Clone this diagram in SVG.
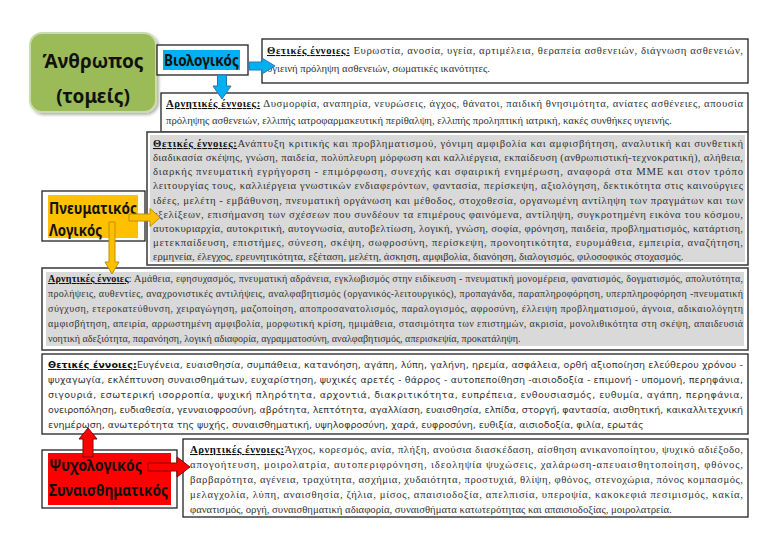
<svg xmlns="http://www.w3.org/2000/svg" width="768" height="543" viewBox="0 0 768 543">
<defs>
<style>
.bx{fill:#fff;stroke:#222;stroke-width:1.3}
.gb{fill:#fff;stroke:#444;stroke-width:1.6}
.gf{fill:#d9d9d9}
.t{font-family:"Liberation Serif","Times New Roman",serif;font-size:10.7px;fill:#333}
.t2{font-family:"Liberation Serif","Times New Roman",serif;font-size:10.1px;fill:#333}
.s{font-family:"DejaVu Sans","Noto Sans",sans-serif;font-size:9.5px;fill:#333}
.lb{font-weight:bold;text-decoration:underline;fill:#111}
.h{font-family:"Noto Sans","Open Sans",sans-serif;font-weight:bold;fill:#111}
</style>
<filter id="sh" x="-10%" y="-10%" width="130%" height="130%">
<feGaussianBlur in="SourceAlpha" stdDeviation="1.5"/>
<feOffset dx="1.5" dy="2" result="o"/>
<feFlood flood-color="#000" flood-opacity="0.3"/>
<feComposite in2="o" operator="in"/>
<feMerge><feMergeNode/><feMergeNode in="SourceGraphic"/></feMerge>
</filter>
</defs>
<rect width="768" height="543" fill="#fff"/>

<g id="anthropos">
<rect x="30" y="33" width="126" height="79" rx="12" fill="#9bbb59" stroke="#c9dcae" stroke-width="2" filter="url(#sh)"/>
<text class="h" x="93" y="68" font-size="19" text-anchor="middle">Άνθρωπος</text>
<text class="h" x="93" y="103" font-size="19" text-anchor="middle">(τομείς)</text>
</g>

<g id="viologikos">
<rect class="bx" x="157" y="45" width="91" height="30"/>
<rect x="163" y="50" width="77" height="20" fill="#00b0f0"/>
<text class="h" x="164" y="66" font-size="15.5" textLength="75" lengthAdjust="spacingAndGlyphs">Βιολογικός</text>
</g>

<g id="viol-thetikes">
<rect class="bx" x="262" y="39" width="486" height="44"/>
<text class="t" x="267" y="54" textLength="476" lengthAdjust="spacing"><tspan class="lb">Θετικές έννοιες:</tspan> Ευρωστία, ανοσία, υγεία, αρτιμέλεια, θεραπεία ασθενειών, διάγνωση ασθενειών,</text>
<text class="t" x="267" y="72">υγιεινή πρόληψη ασθενειών, σωματικές ικανότητες.</text>
</g>

<g id="viol-arnitikes">
<rect class="bx" x="161" y="93" width="587" height="39"/>
<text class="t" x="166" y="107" textLength="577" lengthAdjust="spacing"><tspan class="lb">Αρνητικές έννοιες:</tspan> Δυσμορφία, αναπηρία, νευρώσεις, άγχος, θάνατοι, παιδική θνησιμότητα, ανίατες ασθένειες, απουσία</text>
<text class="t" x="166" y="124">πρόληψης ασθενειών, ελλιπής ιατροφαρμακευτική περίθαλψη, ελλιπής προληπτική ιατρική, κακές συνθήκες υγιεινής.</text>
</g>

<g id="pnev-thetikes">
<rect class="gb" x="147" y="132" width="601" height="133"/>
<rect class="gf" x="150" y="135" width="595" height="127"/>
<text class="t" x="153" y="147" textLength="590" lengthAdjust="spacing"><tspan class="lb">Θετικές έννοιες:</tspan>Ανάπτυξη κριτικής και προβληματισμού, γόνιμη αμφιβολία και αμφισβήτηση, αναλυτική και συνθετική</text>
<text class="t" x="153" y="161" textLength="590" lengthAdjust="spacing">διαδικασία σκέψης, γνώση, παιδεία, πολύπλευρη μόρφωση και καλλιέργεια, εκπαίδευση (ανθρωπιστική-τεχνοκρατική), αλήθεια,</text>
<text class="t" x="153" y="175" textLength="590" lengthAdjust="spacing">διαρκής πνευματική εγρήγορση - επιμόρφωση, συνεχής και σφαιρική ενημέρωση, αναφορά στα ΜΜΕ και στον τρόπο</text>
<text class="t" x="153" y="189" textLength="590" lengthAdjust="spacing">λειτουργίας τους, καλλιέργεια γνωστικών ενδιαφερόντων, φαντασία, περίσκεψη, αξιολόγηση, δεκτικότητα στις καινούργιες</text>
<text class="t" x="153" y="204" textLength="590" lengthAdjust="spacing">ιδέες, μελέτη - εμβάθυνση, πνευματική οργάνωση και μέθοδος, στοχοθεσία, οργανωμένη αντίληψη των πραγμάτων και των</text>
<text class="t" x="153" y="218" textLength="590" lengthAdjust="spacing">εξελίξεων, επισήμανση των σχέσεων που συνδέουν τα επιμέρους φαινόμενα, αντίληψη, συγκροτημένη εικόνα του κόσμου,</text>
<text class="t" x="153" y="232" textLength="590" lengthAdjust="spacing">αυτοκυριαρχία, αυτοκριτική, αυτογνωσία, αυτοβελτίωση, λογική, γνώση, σοφία, φρόνηση, παιδεία, προβληματισμός, κατάρτιση,</text>
<text class="t" x="153" y="246" textLength="590" lengthAdjust="spacing">μετεκπαίδευση, επιστήμες,  σύνεση, σκέψη, σωφροσύνη, περίσκεψη, προνοητικότητα, ευρυμάθεια, εμπειρία, αναζήτηση,</text>
<text class="t" x="153" y="260">ερμηνεία, έλεγχος, ερευνητικότητα, εξέταση, μελέτη, άσκηση, αμφιβολία, διανόηση, διαλογισμός, φιλοσοφικός στοχασμός.</text>
</g>

<g id="pnevmatikos">
<rect class="bx" x="42" y="191" width="103" height="50"/>
<rect x="48" y="195" width="90" height="43" fill="#ffc000"/>
<text class="h" x="49" y="214" font-size="15.5" textLength="88" lengthAdjust="spacingAndGlyphs">Πνευματικός</text>
<text class="h" x="49" y="236" font-size="15.5" textLength="53" lengthAdjust="spacingAndGlyphs">Λογικός</text>
</g>

<g id="pnev-arnitikes">
<rect class="gb" x="42" y="268" width="706" height="82"/>
<rect class="gf" x="46" y="272" width="698" height="74"/>
<text class="t2" x="48" y="282" textLength="695" lengthAdjust="spacing"><tspan class="lb">Αρνητικές έννοιες</tspan>: Αμάθεια, εφησυχασμός, πνευματική αδράνεια, εγκλωβισμός στην ειδίκευση - πνευματική μονομέρεια, φανατισμός, δογματισμός, απολυτότητα,</text>
<text class="t2" x="48" y="297" textLength="695" lengthAdjust="spacing">προλήψεις, αυθεντίες, αναχρονιστικές αντιλήψεις, αναλφαβητισμός (οργανικός-λειτουργικός), προπαγάνδα, παραπληροφόρηση, υπερπληροφόρηση -πνευματική</text>
<text class="t2" x="48" y="312" textLength="695" lengthAdjust="spacing">σύγχυση, ετεροκατεύθυνση, χειραγώγηση, μαζοποίηση, αποπροσανατολισμός, παραλογισμός, αφροσύνη, έλλειψη προβληματισμού, άγνοια, αδικαιολόγητη</text>
<text class="t2" x="48" y="327" textLength="695" lengthAdjust="spacing">αμφισβήτηση, απειρία, αρρωστημένη αμφιβολία,  μορφωτική κρίση, ημιμάθεια, στασιμότητα των επιστημών, ακρισία, μονολιθικότητα στη σκέψη, απαιδευσιά</text>
<text class="t2" x="48" y="342">νοητική αδεξιότητα, παρανόηση, λογική αδιαφορία, αγραμματοσύνη, αναλφαβητισμός, απερισκεψία, προκατάληψη.</text>
</g>

<g id="psych-thetikes">
<rect class="bx" x="42" y="354" width="706" height="80"/>
<text class="s" x="48" y="368" textLength="695" lengthAdjust="spacing"><tspan class="lb">Θετικές έννοιες:</tspan>Ευγένεια, ευαισθησία, συμπάθεια, κατανόηση, αγάπη, λύπη, γαλήνη, ηρεμία, ασφάλεια, ορθή αξιοποίηση ελεύθερου χρόνου -</text>
<text class="s" x="48" y="383" textLength="695" lengthAdjust="spacing">ψυχαγωγία, εκλέπτυνση συναισθημάτων, ευχαρίστηση, ψυχικές αρετές - θάρρος - αυτοπεποίθηση -αισιοδοξία - επιμονή - υπομονή, περηφάνια,</text>
<text class="s" x="48" y="398" textLength="695" lengthAdjust="spacing">σιγουριά, εσωτερική ισορροπία, ψυχική πληρότητα, αρχοντιά, διακριτικότητα, ευπρέπεια, ενθουσιασμός, ευθυμία, αγάπη, περηφάνια,</text>
<text class="s" x="48" y="413" textLength="695" lengthAdjust="spacing">ονειροπόληση, ευδιαθεσία, γενναιοφροσύνη, αβρότητα, λεπτότητα, αγαλλίαση, ευαισθησία, ελπίδα, στοργή, φαντασία, αισθητική, καικαλλιτεχνική</text>
<text class="s" x="48" y="428">ενημέρωση, ανωτερότητα της ψυχής, συναισθηματική, υψηλοφροσύνη, χαρά, ευφροσύνη, ευθιξία, αισιοδοξία, φιλία, ερωτάς</text>
</g>

<g id="psychologikos">
<rect class="bx" x="42" y="450" width="135" height="58"/>
<rect x="48" y="453" width="123" height="52" fill="#ff0000"/>
<text class="h" x="49" y="471" font-size="15.5" textLength="93" lengthAdjust="spacingAndGlyphs">Ψυχολογικός</text>
<text class="h" x="49" y="496" font-size="15.5" textLength="119" lengthAdjust="spacingAndGlyphs">Συναισθηματικός</text>
</g>

<g id="psych-arnitikes">
<rect class="bx" x="183" y="439" width="565" height="78"/>
<text class="t" x="190" y="453" textLength="553" lengthAdjust="spacing"><tspan class="lb">Αρνητικές έννοιες:</tspan>Άγχος, κορεσμός, ανία, πλήξη, ανούσια διασκέδαση, αίσθηση ανικανοποίητου, ψυχικό αδιέξοδο,</text>
<text class="t" x="190" y="468" textLength="553" lengthAdjust="spacing">απογοήτευση, μοιρολατρία, αυτοπεριφρόνηση, ιδεοληψία ψυχώσεις, χαλάρωση-απευαισθητοποίηση, φθόνος,</text>
<text class="t" x="190" y="483" textLength="553" lengthAdjust="spacing">βαρβαρότητα, αγένεια, τραχύτητα, ασχήμια, χυδαιότητα, προστυχιά, θλίψη, φθόνος, στενοχώρια, πόνος κομπασμός,</text>
<text class="t" x="190" y="498" textLength="553" lengthAdjust="spacing">μελαγχολία, λύπη, αναισθησία, ζήλια, μίσος, απαισιοδοξία, απελπισία, υπεροψία, κακοκεφιά πεσιμισμός, κακία,</text>
<text class="t" x="190" y="513">φανατισμός, οργή, συναισθηματική αδιαφορία, συναισθήματα κατωτερότητας και απαισιοδοξίας, μοιρολατρεία.</text>
</g>

<g id="connectors" stroke-width="1" stroke-linejoin="miter">
<polygon points="249,62 262,62 262,58 275,66 262,74 262,70 249,70" fill="#00b0f0" stroke="#2e75b6"/>
<polygon points="217.5,75 226.5,75 226.5,86 231,86 222,99 213,86 217.5,86" fill="#00b0f0" stroke="#2e75b6"/>
<polygon points="129,214 150,214 150,208.5 160,217.5 150,226.5 150,221 129,221" fill="#ffc000" stroke="#bf8f00"/>
<polygon points="109,222 115,222 115,262 119,262 112,274 105,262 109,262" fill="#ffc000" stroke="#bf8f00"/>
<polygon points="83,457 93,457 93,439 97,439 88,428 79,439 83,439" fill="#ff0000" stroke="#8b0000"/>
<polygon points="148,463 177,463 177,457 190,467 177,477 177,471 148,471" fill="#ff0000" stroke="#8b0000"/>
</g>
</svg>
